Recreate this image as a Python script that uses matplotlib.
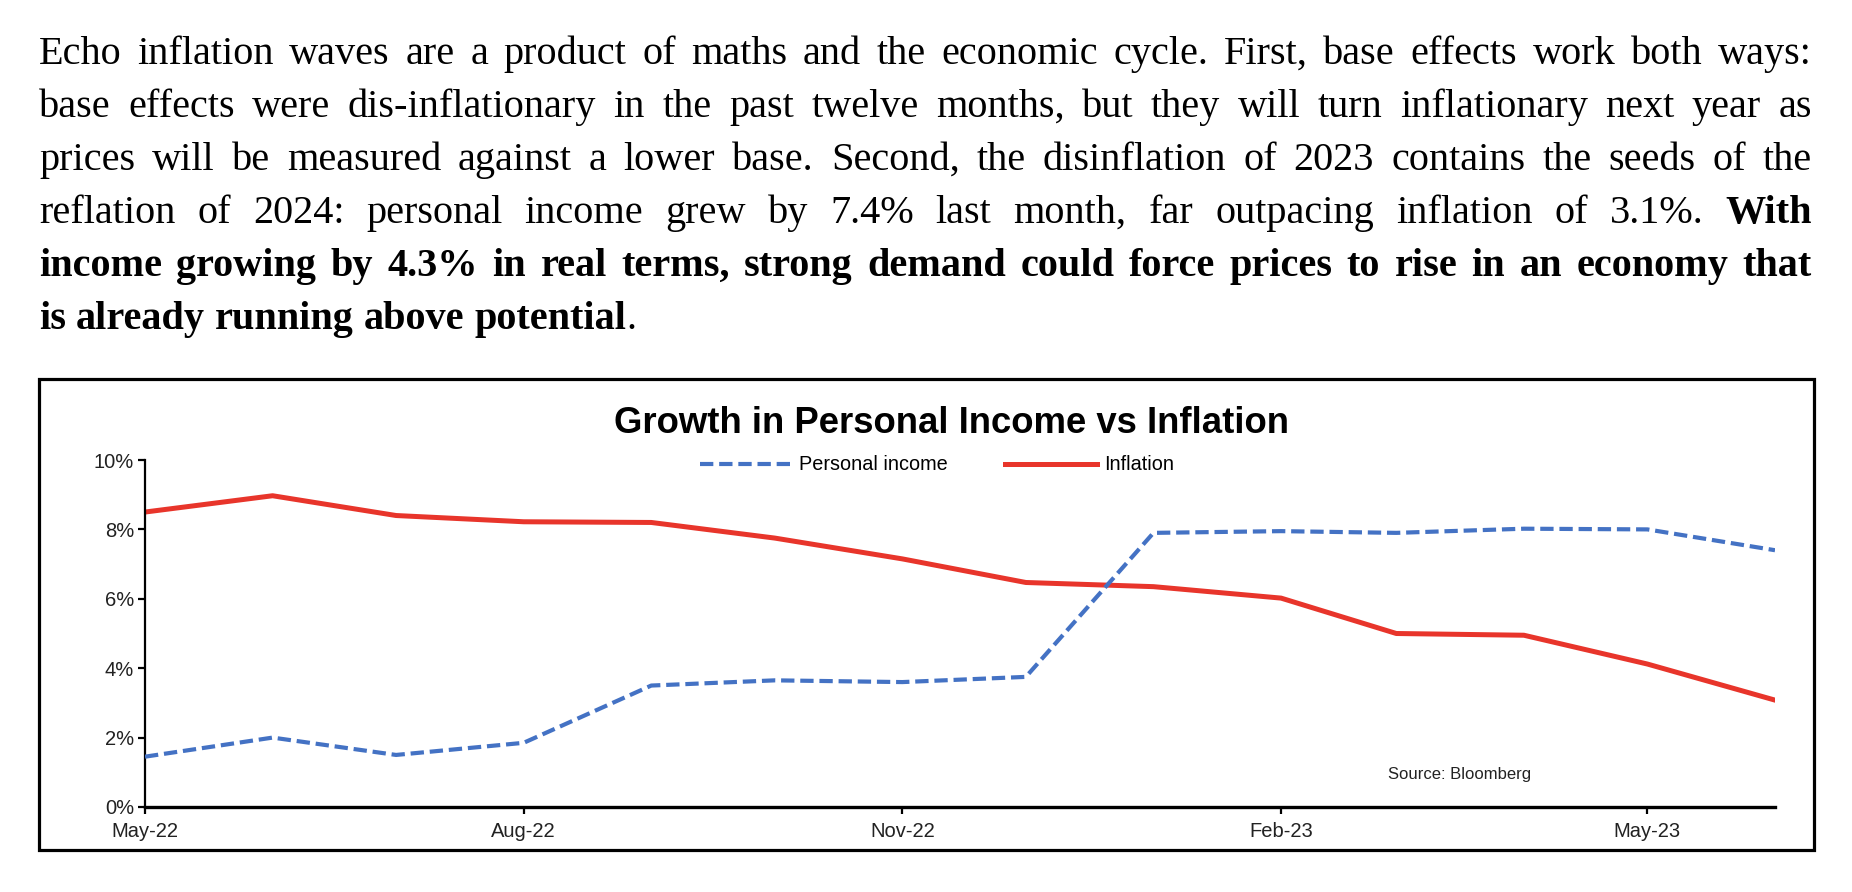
import numpy as np
import pandas as pd
import matplotlib
matplotlib.use("Agg")
from matplotlib import pyplot as plt
from matplotlib.patches import Rectangle
import matplotlib.dates as mdates
from matplotlib.ticker import FuncFormatter

### data (monthly, May-22 .. Jun-23)
months = pd.date_range("2022-05-01", periods=14, freq="MS")
income = [1.45, 2.0, 1.5, 1.85, 3.5, 3.65, 3.6, 3.75, 7.9, 7.95, 7.9, 8.02, 8.0, 7.4]
inflation = [8.5, 8.97, 8.4, 8.22, 8.2, 7.75, 7.15, 6.47, 6.35, 6.02, 5.0, 4.95, 4.12, 3.08]
tick_months = ["2022-05-01", "2022-08-01", "2022-11-01", "2023-02-01", "2023-05-01"]
yticks = [0, 2, 4, 6, 8, 10]

title = "Growth in Personal Income vs Inflation"
source = "Source: Bloomberg"

### paragraph above the chart: (text, bold) runs per line
para = [
    [("Echo inflation waves are a product of maths and the economic cycle. First, base effects work both ways:", False)],
    [("base effects were dis-inflationary in the past twelve months, but they will turn inflationary next year as", False)],
    [("prices will be measured against a lower base. Second, the disinflation of 2023 contains the seeds of the", False)],
    [("reflation of 2024: personal income grew by 7.4% last month, far outpacing inflation of 3.1%. ", False), ("With", True)],
    [("income growing by 4.3% in real terms, strong demand could force prices to rise in an economy that", True)],
    [("is already running above potential", True), (".", False)],
]

W, H = 1852, 892
fig = plt.figure(figsize=(W / 100, H / 100), dpi=100)
plt.rcParams["font.family"] = ["Liberation Sans", "DejaVu Sans"]

blue = "#4472C4"
red = "#E8352B"

### frame around the chart
fig.patches.append(Rectangle((39 / W, 1 - 850 / H), 1775 / W, 471 / H, transform=fig.transFigure,
                             fill=False, edgecolor="black", lw=2.3, zorder=0))

ax = fig.add_axes([145 / W, 1 - 807 / H, 1630 / W, 347 / H])
ax.plot(months, income, color=blue, lw=3, dashes=(3.2, 1.4), label="Personal income", zorder=3)
ax.plot(months, inflation, color=red, lw=3.6, label="Inflation", zorder=2)

ax.set_ylim(0, 10)
ax.set_xlim(months[0], months[-1])
ax.set_yticks(yticks)
ax.yaxis.set_major_formatter(FuncFormatter(lambda v, p: f"{int(v)}%"))
ax.set_xticks(pd.to_datetime(tick_months))
ax.xaxis.set_major_formatter(mdates.DateFormatter("%b-%y"))
for s in ["top", "right"]:
    ax.spines[s].set_visible(False)
ax.spines["bottom"].set_linewidth(2.4)
ax.spines["left"].set_linewidth(1.6)
ax.tick_params(axis="y", direction="out", length=5, width=1.6, labelsize=14.5, pad=3, colors="black")
ax.tick_params(axis="x", direction="out", length=5, width=1.6, labelsize=14.5, pad=6, colors="black")
for lab in ax.get_xticklabels() + ax.get_yticklabels():
    lab.set_color("#222222")

fig.text(951 / W, 1 - 433 / H, title, ha="center", va="baseline", fontsize=26.3, weight="bold")
leg = fig.legend(loc="center", bbox_to_anchor=(937 / W, 1 - 465 / H), ncol=2, frameon=False,
                 fontsize=14.3, handlelength=4.6, handletextpad=0.4, columnspacing=2.9, borderpad=0)
fig.text(1388 / W, 1 - 774 / H, source, ha="left", va="center", fontsize=12, color="#222222")

### justified paragraph
fs = 29
serif = ["Liberation Serif", "DejaVu Serif"]
left, right = 39, 1812
baselines = [64, 117, 170, 223, 276, 329]
r = fig.canvas.get_renderer()

def width(s, bold):
    t = fig.text(0, 0, s, fontsize=fs, family=serif, weight="bold" if bold else "normal")
    w = t.get_window_extent(r).width
    t.remove()
    return w

space = width("a a", False) - width("aa", False)

for li, runs in enumerate(para):
    chars = [(c, b) for txt, b in runs for c in txt]
    words, cur = [], []
    for c, b in chars:
        if c == " ":
            if cur:
                words.append(cur)
            cur = []
        else:
            if cur and cur[-1][1] == b:
                cur[-1] = (cur[-1][0] + c, b)
            else:
                cur.append((c, b))
    if cur:
        words.append(cur)
    wws = [[width(s, b) for s, b in w] for w in words]
    total = sum(sum(x) for x in wws)
    last = li == len(para) - 1
    gap = space if last else (right - left - total) / (len(words) - 1)
    x = left
    y = 1 - baselines[li] / H
    for w, ww in zip(words, wws):
        for (s, b), wi in zip(w, ww):
            fig.text(x / W, y, s, fontsize=fs, family=serif, weight="bold" if b else "normal",
                     va="baseline", ha="left", color="black")
            x += wi
        x += gap

fig.savefig("out.png", dpi=100)
